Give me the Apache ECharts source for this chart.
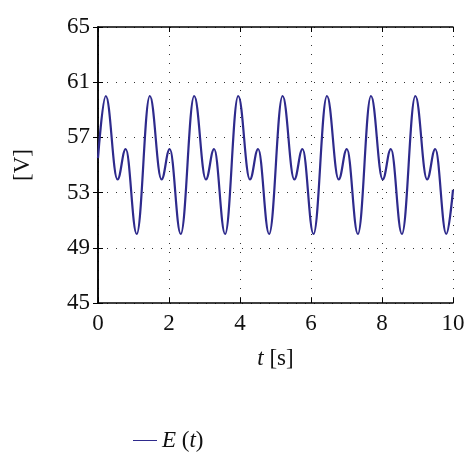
<!DOCTYPE html><html><head><meta charset="utf-8"><script src="https://cdn.jsdelivr.net/npm/echarts@6/dist/echarts.min.js"></script></head><body style="margin:0"><div id="c" style="width:474px;height:474px"></div><script>
var tValues=[0,0.22,0.55,0.78,1.09,
1.46,1.79,2.02,2.33,
2.71,3.04,3.27,3.58,
3.95,4.28,4.51,4.82,
5.20,5.53,5.76,6.07,
6.45,6.78,7.01,7.32,
7.69,8.02,8.25,8.56,
8.94,9.27,9.50,9.81,10];
var eValues=[55.5,60,53.95,56.16,50,
60,53.95,56.16,50,
60,53.95,56.16,50,
60,53.95,56.16,50,
60,53.95,56.16,50,
60,53.95,56.16,50,
60,53.95,56.16,50,
60,53.95,56.16,50,53.2];
var xTicks=[0,2,4,6,8,10], yTicks=[45,49,53,57,61,65];
var F='Liberation Serif';
var data=tValues.map(function(t,i){return [t,eValues[i]];});
var ax={axisLine:{show:true,lineStyle:{color:'#000',width:1.5}},axisTick:{inside:true,length:5,lineStyle:{color:'#000'}}};
var ch=echarts.init(document.getElementById('c'));
ch.setOption({
animation:false,
grid:{left:98,right:21,top:27,bottom:171},
xAxis:[Object.assign({type:'value',min:0,max:10,interval:2,position:'bottom',
 axisLabel:{color:'#111',fontFamily:F,fontSize:23,margin:9},
 splitLine:{show:true,lineStyle:{color:'#333',type:[1,8]}},
 name:'{i|t} [s]',nameLocation:'middle',nameGap:44,
 nameTextStyle:{fontFamily:F,fontSize:23,color:'#111',rich:{i:{fontStyle:'italic',fontFamily:F,fontSize:23,color:'#111'}}}},ax),
 Object.assign({type:'value',min:0,max:10,interval:2,position:'top',axisLabel:{show:false},splitLine:{show:false}},ax)],
yAxis:[Object.assign({type:'value',min:45,max:65,interval:4,
 axisLabel:{color:'#111',fontFamily:F,fontSize:23,margin:8},
 splitLine:{show:true,lineStyle:{color:'#333',type:[1,8]}},
 name:'[V]',nameLocation:'middle',nameGap:64,nameRotate:90,
 nameTextStyle:{fontFamily:F,fontSize:23,color:'#111'}},ax),
 Object.assign({type:'value',min:45,max:65,interval:4,position:'right',axisLabel:{show:false},splitLine:{show:false}},ax)],
legend:{left:128,top:424,itemWidth:24,itemHeight:10,icon:'path://M0,5L24,5L24,6L0,6Z',
 formatter:function(){return '{i|E} ({i|t})';},
 textStyle:{fontFamily:F,fontSize:23,color:'#111',rich:{i:{fontStyle:'italic',fontFamily:F,fontSize:23,color:'#111'}}}},
series:[{name:'E(t)',type:'line',data:data,smooth:0.4,smoothMonotone:'x',showSymbol:false,symbol:'none',
 lineStyle:{color:'#2e2a8c',width:2.2},itemStyle:{color:'#2e2a8c'}}]
});
</script></body></html>
